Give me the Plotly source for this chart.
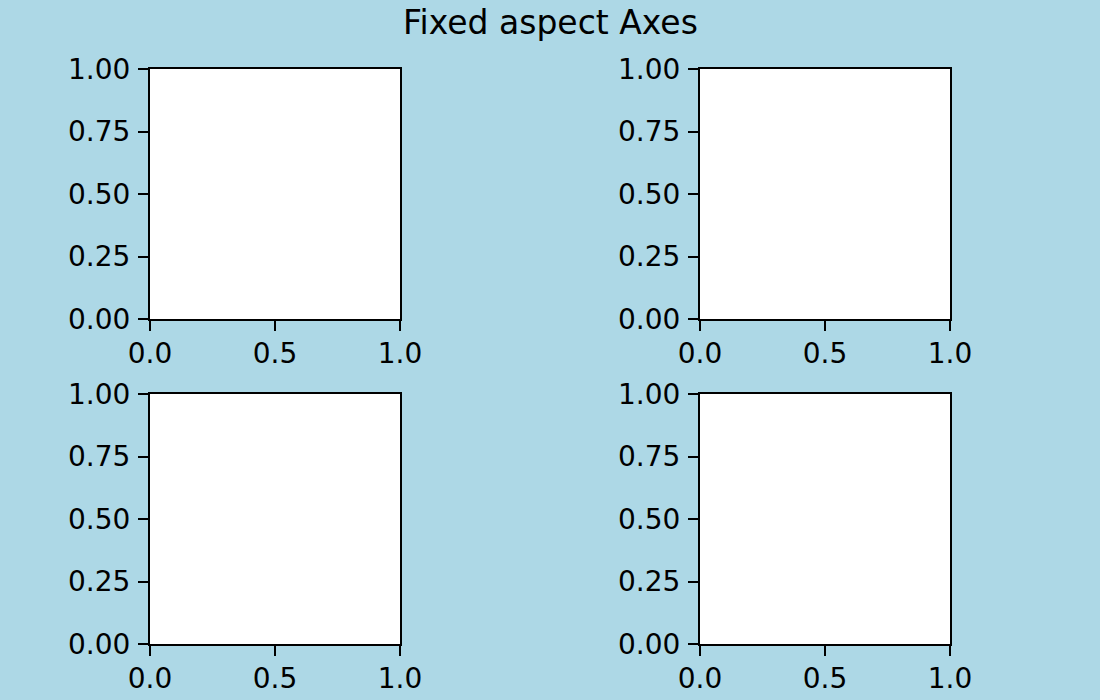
import plotly.graph_objects as go

# axes limits and ticks (empty axes, fixed aspect)
x_range = [0.0, 1.0]
y_range = [0.0, 1.0]
x_ticks = [0.0, 0.5, 1.0]
x_tick_labels = ["0.0", "0.5", "1.0"]
y_ticks = [0.0, 0.25, 0.5, 0.75, 1.0]
y_tick_labels = ["0.00", "0.25", "0.50", "0.75", "1.00"]

W, H = 1100, 700
FONT = "DejaVu Sans"

# pixel boxes of the four axes (left, top, right, bottom)
boxes = [
    (150, 69, 400, 319),
    (700, 69, 950, 319),
    (150, 394, 400, 644),
    (700, 394, 950, 644),
]

fig = go.Figure()

layout = {}
for i, (l, t, r, b) in enumerate(boxes, start=1):
    sfx = "" if i == 1 else str(i)
    common = dict(
        showline=True,
        linecolor="black",
        linewidth=2,
        mirror=True,
        showgrid=False,
        zeroline=False,
        ticks="outside",
        ticklen=10,
        tickwidth=2,
        tickcolor="black",
        tickfont=dict(family=FONT, size=28, color="black"),
        fixedrange=True,
        automargin=False,
    )
    layout["xaxis" + sfx] = dict(
        common,
        domain=[l / W, r / W],
        range=x_range,
        tickvals=x_ticks,
        ticktext=x_tick_labels,
        anchor="y" + sfx,
        ticklabelstandoff=-2,
    )
    layout["yaxis" + sfx] = dict(
        common,
        domain=[1 - b / H, 1 - t / H],
        range=y_range,
        tickvals=y_ticks,
        ticktext=y_tick_labels,
        anchor="x" + sfx,
        ticklabelstandoff=2,
    )
    # invisible trace so the subplot is registered
    fig.add_trace(go.Scatter(x=[], y=[], xaxis="x" + sfx, yaxis="y" + sfx,
                             showlegend=False, hoverinfo="skip"))

fig.update_layout(**layout)

fig.add_annotation(
    xref="paper", yref="paper",
    x=0.5, y=1 - 22 / H,
    text="Fixed aspect Axes",
    showarrow=False,
    xanchor="center", yanchor="middle",
    font=dict(family=FONT, size=33, color="black"),
)

fig.update_layout(
    width=W,
    height=H,
    margin=dict(l=0, r=0, t=0, b=0),
    paper_bgcolor="lightblue",
    plot_bgcolor="white",
    showlegend=False,
)

fig.write_html("out.html", config={"displayModeBar": False},
               post_script="document.body.style.margin='0';")
